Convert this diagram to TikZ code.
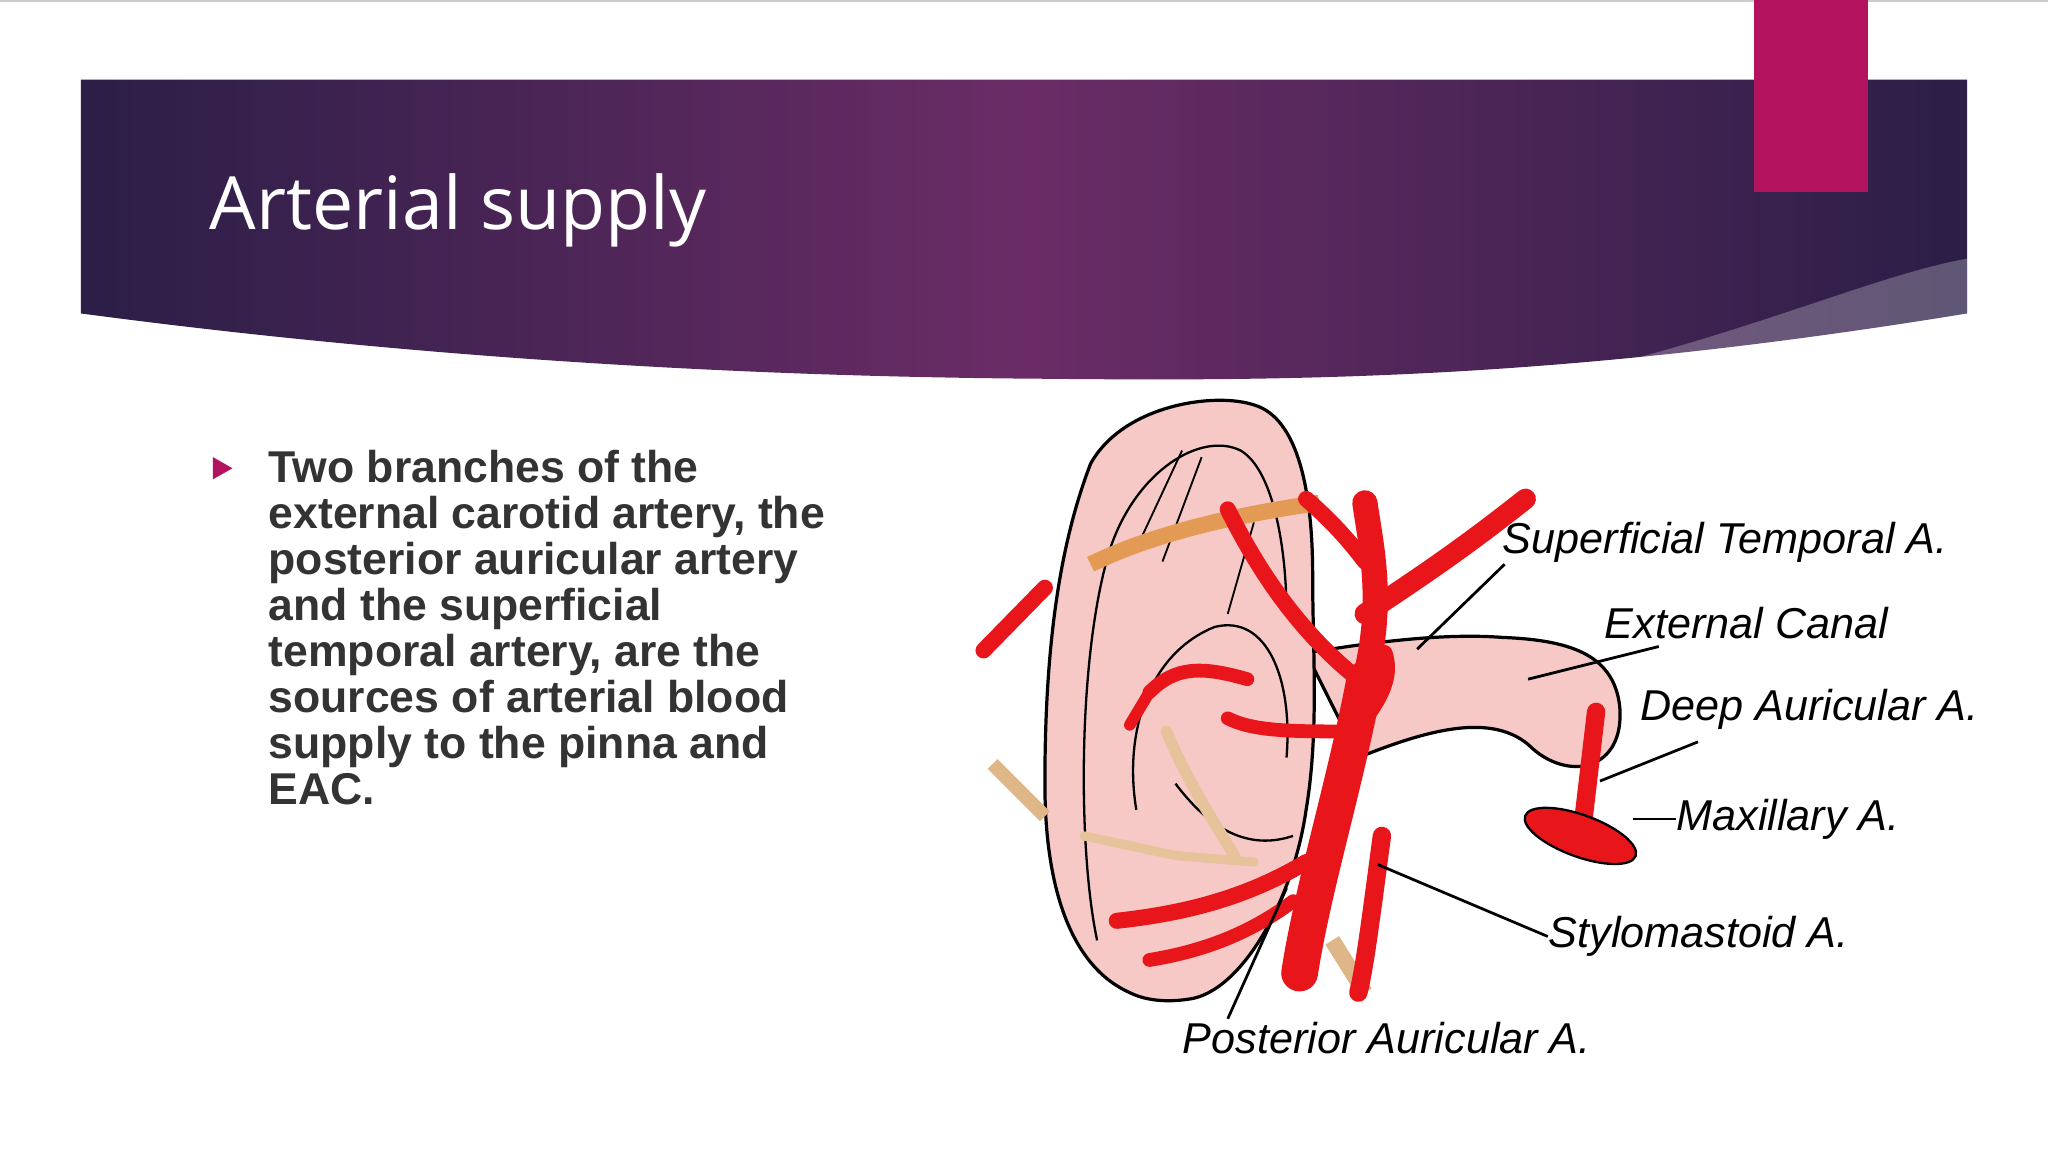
\documentclass[tikz,border=0pt]{standalone}
\usepackage{fontspec}
\setmainfont{Liberation Sans}
\newfontfamily\titlefont{Open Sans}
\usetikzlibrary{shapes.geometric}
\definecolor{bandA}{HTML}{2B1E47}
\definecolor{bandB}{HTML}{6B2C66}
\definecolor{mag}{HTML}{B3125F}
\definecolor{bodytext}{HTML}{333333}
\definecolor{skin}{HTML}{F6C9C6}
\definecolor{art}{HTML}{E8151B}
\definecolor{nerve}{HTML}{E29A55}
\definecolor{tan}{HTML}{E6C39A}
\tikzset{
  artery/.style={draw=art, line cap=round, line join=round},
  lead/.style={draw=black, line width=0.6pt},
  lbl/.style={font=\itshape\fontsize{9.4}{11}\selectfont, anchor=west, inner sep=0pt},
  outline/.style={draw=black, line width=0.7pt, fill=skin}
}
\begin{document}
\begin{tikzpicture}[x=0.01cm,y=-0.01cm]
\useasboundingbox (0,0) rectangle (1568,882);
\fill[white] (0,0) rectangle (1568,882);
\draw[gray!40] (0,0.5) -- (1568,0.5);
% banner
\shade[left color=bandA, right color=bandA, middle color=bandB]
  (62,61) -- (1506,61) -- (1506,240) .. controls (1200,290) and (1000,292) .. (800,290)
  .. controls (500,288) and (250,265) .. (62,240) -- cycle;
\fill[white, opacity=0.25] (1230,280) .. controls (1350,250) and (1440,210) .. (1506,198) -- (1506,240) .. controls (1420,258) and (1320,272) .. cycle;
\fill[mag] (1343,0) rectangle (1430,147);
\node[text=white, font=\titlefont\fontsize{16}{20}\selectfont, anchor=base west, inner sep=0] (title) at (160,176) {Arterial supply};
% bullet
\fill[mag] (163,350) -- (178,358.5) -- (163,367) -- cycle;
\node[anchor=north west, inner sep=0, text=bodytext, align=left,
      font=\bfseries\fontsize{9.7}{10}\selectfont] (body) at (205,344)
 {Two branches of the\\external carotid artery, the\\posterior auricular artery\\and the superficial\\temporal artery, are the\\sources of arterial blood\\supply to the pinna and\\EAC.};
% ear canal
\draw[outline] (1000,500) .. controls (1060,490) and (1110,485) .. (1150,488)
  .. controls (1200,490) and (1235,500) .. (1240,540) .. controls (1245,590) and (1200,600) .. (1170,570)
  .. controls (1140,545) and (1090,560) .. (1040,580) -- cycle;
% ear
\draw[outline] (865,760) .. controls (820,740) and (800,680) .. (800,600)
  .. controls (800,500) and (810,420) .. (835,355) .. controls (860,310) and (930,300) .. (960,310)
  .. controls (995,320) and (1005,380) .. (1005,440) .. controls (1005,500) and (1010,560) .. (1000,620)
  .. controls (990,690) and (950,760) .. (910,765) .. controls (890,768) and (875,765) .. cycle;
\draw[black, line width=0.5pt] (840,720) .. controls (825,650) and (825,500) .. (850,420) .. controls (870,360) and (920,330) .. (950,345)
  .. controls (975,360) and (985,420) .. (985,470);
\draw[black, line width=0.5pt] (870,620) .. controls (860,560) and (880,500) .. (930,480) .. controls (970,470) and (990,520) .. (985,580);
\draw[black, line width=0.5pt] (900,600) .. controls (930,640) and (960,650) .. (990,640);
\draw[black, line width=0.4pt] (905,345) -- (870,420) (920,350) -- (890,430) (960,400) -- (940,470);
% nerves
\draw[nerve, line width=3.5pt] (835,432) .. controls (880,410) and (940,395) .. (1010,385);
\draw[tan, line width=2.5pt, line cap=round] (893,560) .. controls (910,600) and (930,630) .. (945,655);
\draw[tan, line width=2pt, line cap=round] (830,640) -- (900,655) -- (960,660);
\draw[tan!80!brown, line width=3pt] (760,585) -- (800,625);
\draw[tan!80!brown, line width=3.5pt] (1020,720) -- (1045,760);
% arteries
\draw[artery, line width=8pt] (995,745) .. controls (1005,680) and (1030,600) .. (1045,520);
\draw[artery, line width=5.5pt] (1045,520) .. controls (1060,460) and (1050,420) .. (1045,385);
\draw[artery, line width=4.5pt] (1045,470) .. controls (1090,440) and (1120,420) .. (1168,382);
\draw[artery, line width=3.5pt] (1045,430) .. controls (1030,410) and (1015,395) .. (1000,382);
\draw[artery, line width=3.5pt] (1040,520) .. controls (990,480) and (960,430) .. (940,390);
\draw[artery, line width=3pt] (1030,560) .. controls (990,560) and (960,560) .. (940,550);
\draw[artery, line width=3.5pt] (1000,660) .. controls (950,690) and (900,700) .. (855,705);
\draw[artery, line width=3pt] (990,690) .. controls (950,720) and (910,730) .. (880,735);
\draw[artery, line width=3pt] (955,520) .. controls (920,510) and (900,510) .. (880,530);
\draw[artery, line width=2.5pt] (865,555) -- (880,530);
\draw[artery, line width=3.5pt] (800,450) -- (753,498);
\draw[artery, line width=3.5pt] (1045,550) .. controls (1060,530) and (1065,515) .. (1060,500);
\draw[artery, line width=4pt] (1058,640) .. controls (1050,700) and (1045,740) .. (1040,760);
\draw[artery, line width=4pt] (1212,630) -- (1222,545);
\fill[art, draw=black, line width=0.5pt, rotate around={-20:(1210,640)}] (1210,640) ellipse (45 and 16);
% labels
\node[lbl] (st) at (1150,415) {Superficial Temporal A.};
\node[lbl] (ec) at (1228,477) {External Canal};
\node[lbl] (da) at (1255,543) {Deep Auricular A.};
\node[lbl] (mx) at (1283,627) {Maxillary A.};
\node[lbl] (sm) at (1185,717) {Stylomastoid A.};
\node[lbl] (pa) at (905,795) {Posterior Auricular A.};
\coordinate (stE) at (1085,497);
\coordinate (ecE) at (1170,520);
\coordinate (daE) at (1225,598);
\coordinate (mxE) at (1250,627);
\coordinate (smE) at (1055,662);
\coordinate (paE) at (985,680);
\draw[lead] (1152,432) -- (stE);
\draw[lead] (1270,495) -- (ecE);
\draw[lead] (1300,568) -- (daE);
\draw[lead] (mx.west) -- (mxE);
\draw[lead] (sm.west) -- (smE);
\draw[lead] (940,780) -- (paE);
\end{tikzpicture}
\end{document}
